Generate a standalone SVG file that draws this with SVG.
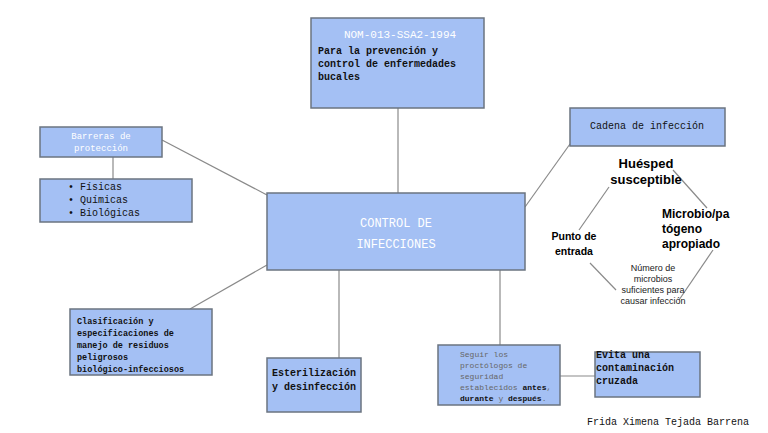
<svg xmlns="http://www.w3.org/2000/svg" width="768" height="433" viewBox="0 0 768 433">
<style>
.b{fill:#a4c0f4;stroke:#6b7480;stroke-width:1.5}
.m{font-family:"Liberation Mono",monospace;font-size:10px;fill:#111}
.mb{font-family:"Liberation Mono",monospace;font-size:10px;fill:#111;font-weight:bold}
.w{font-family:"Liberation Mono",monospace;fill:#fff}
.s{font-family:"Liberation Sans",sans-serif;font-weight:bold;fill:#000}
.c line{stroke:#8a8a8a;stroke-width:1.2}
</style>
<rect width="768" height="433" fill="#fff"/>
<g class="c">
<line x1="398" y1="108" x2="398" y2="193"/>
<line x1="162" y1="140" x2="267" y2="195"/>
<line x1="113" y1="157" x2="113" y2="179"/>
<line x1="525" y1="207" x2="570" y2="144"/>
<line x1="267" y1="265" x2="190" y2="309"/>
<line x1="339" y1="270" x2="339" y2="358"/>
<line x1="500" y1="270" x2="500" y2="345"/>
<line x1="560" y1="376" x2="595" y2="376"/>
<line x1="609" y1="187" x2="579" y2="230" stroke="#555"/>
<line x1="673" y1="170" x2="707" y2="208" stroke="#555"/>
<line x1="713" y1="250" x2="679" y2="300" stroke="#555"/>
<line x1="590" y1="263" x2="616" y2="290" stroke="#555"/>
</g>
<g id="nom"><rect class="b" x="311" y="18" width="173" height="90"/>
<text class="w" x="400" y="38" font-size="11" text-anchor="middle">NOM-013-SSA2-1994</text>
<text class="mb" x="318" y="54">Para la prevención y</text>
<text class="mb" x="318" y="67">control de enfermedades</text>
<text class="mb" x="318" y="80">bucales</text></g>
<g id="barreras"><rect class="b" x="40" y="127" width="122" height="30"/>
<text class="w" x="101" y="139" font-size="9" text-anchor="middle">Barreras de</text>
<text class="w" x="101" y="151" font-size="9" text-anchor="middle">protección</text></g>
<g id="tipos"><rect class="b" x="40" y="179" width="152" height="43"/>
<text class="m" x="68" y="190" font-size="11">•    Físicas</text>
<text class="m" x="68" y="203" font-size="11">•    Químicas</text>
<text class="m" x="68" y="216" font-size="11">•    Biológicas</text></g>
<g id="centro"><rect class="b" x="267" y="193" width="258" height="77"/>
<text class="w" x="396" y="227" font-size="12" text-anchor="middle">CONTROL DE</text>
<text class="w" x="396" y="248" font-size="12" text-anchor="middle">INFECCIONES</text></g>
<g id="cadena"><rect class="b" x="570" y="108" width="155" height="38"/>
<text class="m" x="647" y="129" font-size="11" text-anchor="middle">Cadena de infección</text></g>
<g id="ciclo">
<text class="s" x="646" y="168" font-size="13" text-anchor="middle">Huésped</text>
<text class="s" x="646" y="184" font-size="13" text-anchor="middle">susceptible</text>
<text class="s" x="662" y="218" font-size="12">Microbio/pa</text>
<text class="s" x="662" y="233" font-size="12">tógeno</text>
<text class="s" x="662" y="248" font-size="12">apropiado</text>
<text class="s" x="574" y="240" font-size="10.5" text-anchor="middle">Punto de</text>
<text class="s" x="574" y="255" font-size="10.5" text-anchor="middle">entrada</text>
<g font-family="Liberation Sans,sans-serif" font-size="9" fill="#222" text-anchor="middle">
<text x="653" y="271">Número de</text><text x="653" y="282">microbios</text>
<text x="653" y="293">suficientes para</text><text x="653" y="304">causar infección</text></g></g>
<g id="clasificacion"><rect class="b" x="70" y="309" width="142" height="66"/>
<g font-family="Liberation Mono,monospace" font-size="8.5" font-weight="bold" fill="#111">
<text x="77" y="324">Clasificación y</text><text x="77" y="336">especificaciones de</text>
<text x="77" y="348">manejo de residuos</text><text x="77" y="360">peligrosos</text>
<text x="77" y="372">biológico-infecciosos</text></g></g>
<g id="esterilizacion"><rect class="b" x="267" y="358" width="94" height="54"/>
<text class="mb" x="314" y="376" text-anchor="middle">Esterilización</text>
<text class="mb" x="314" y="390" text-anchor="middle">y desinfección</text></g>
<g id="seguir"><rect class="b" x="438" y="345" width="122" height="60"/>
<g font-family="Liberation Mono,monospace" font-size="8" fill="#666">
<text x="460" y="357">Seguir los</text><text x="460" y="368">proctólogos de</text>
<text x="460" y="379">seguridad</text>
<text x="460" y="390">establecidos <tspan font-weight="bold" fill="#111">antes</tspan>,</text>
<text x="460" y="401"><tspan font-weight="bold" fill="#111">durante</tspan> y <tspan font-weight="bold" fill="#111">después</tspan>.</text></g></g>
<g id="evita"><rect class="b" x="595" y="352" width="105" height="45"/>
<text class="mb" x="596" y="358">Evita una</text>
<text class="mb" x="596" y="371">contaminación</text>
<text class="mb" x="596" y="384">cruzada</text></g>
<text class="m" x="587" y="425" font-size="9.5">Frida Ximena Tejada Barrena</text>
</svg>
